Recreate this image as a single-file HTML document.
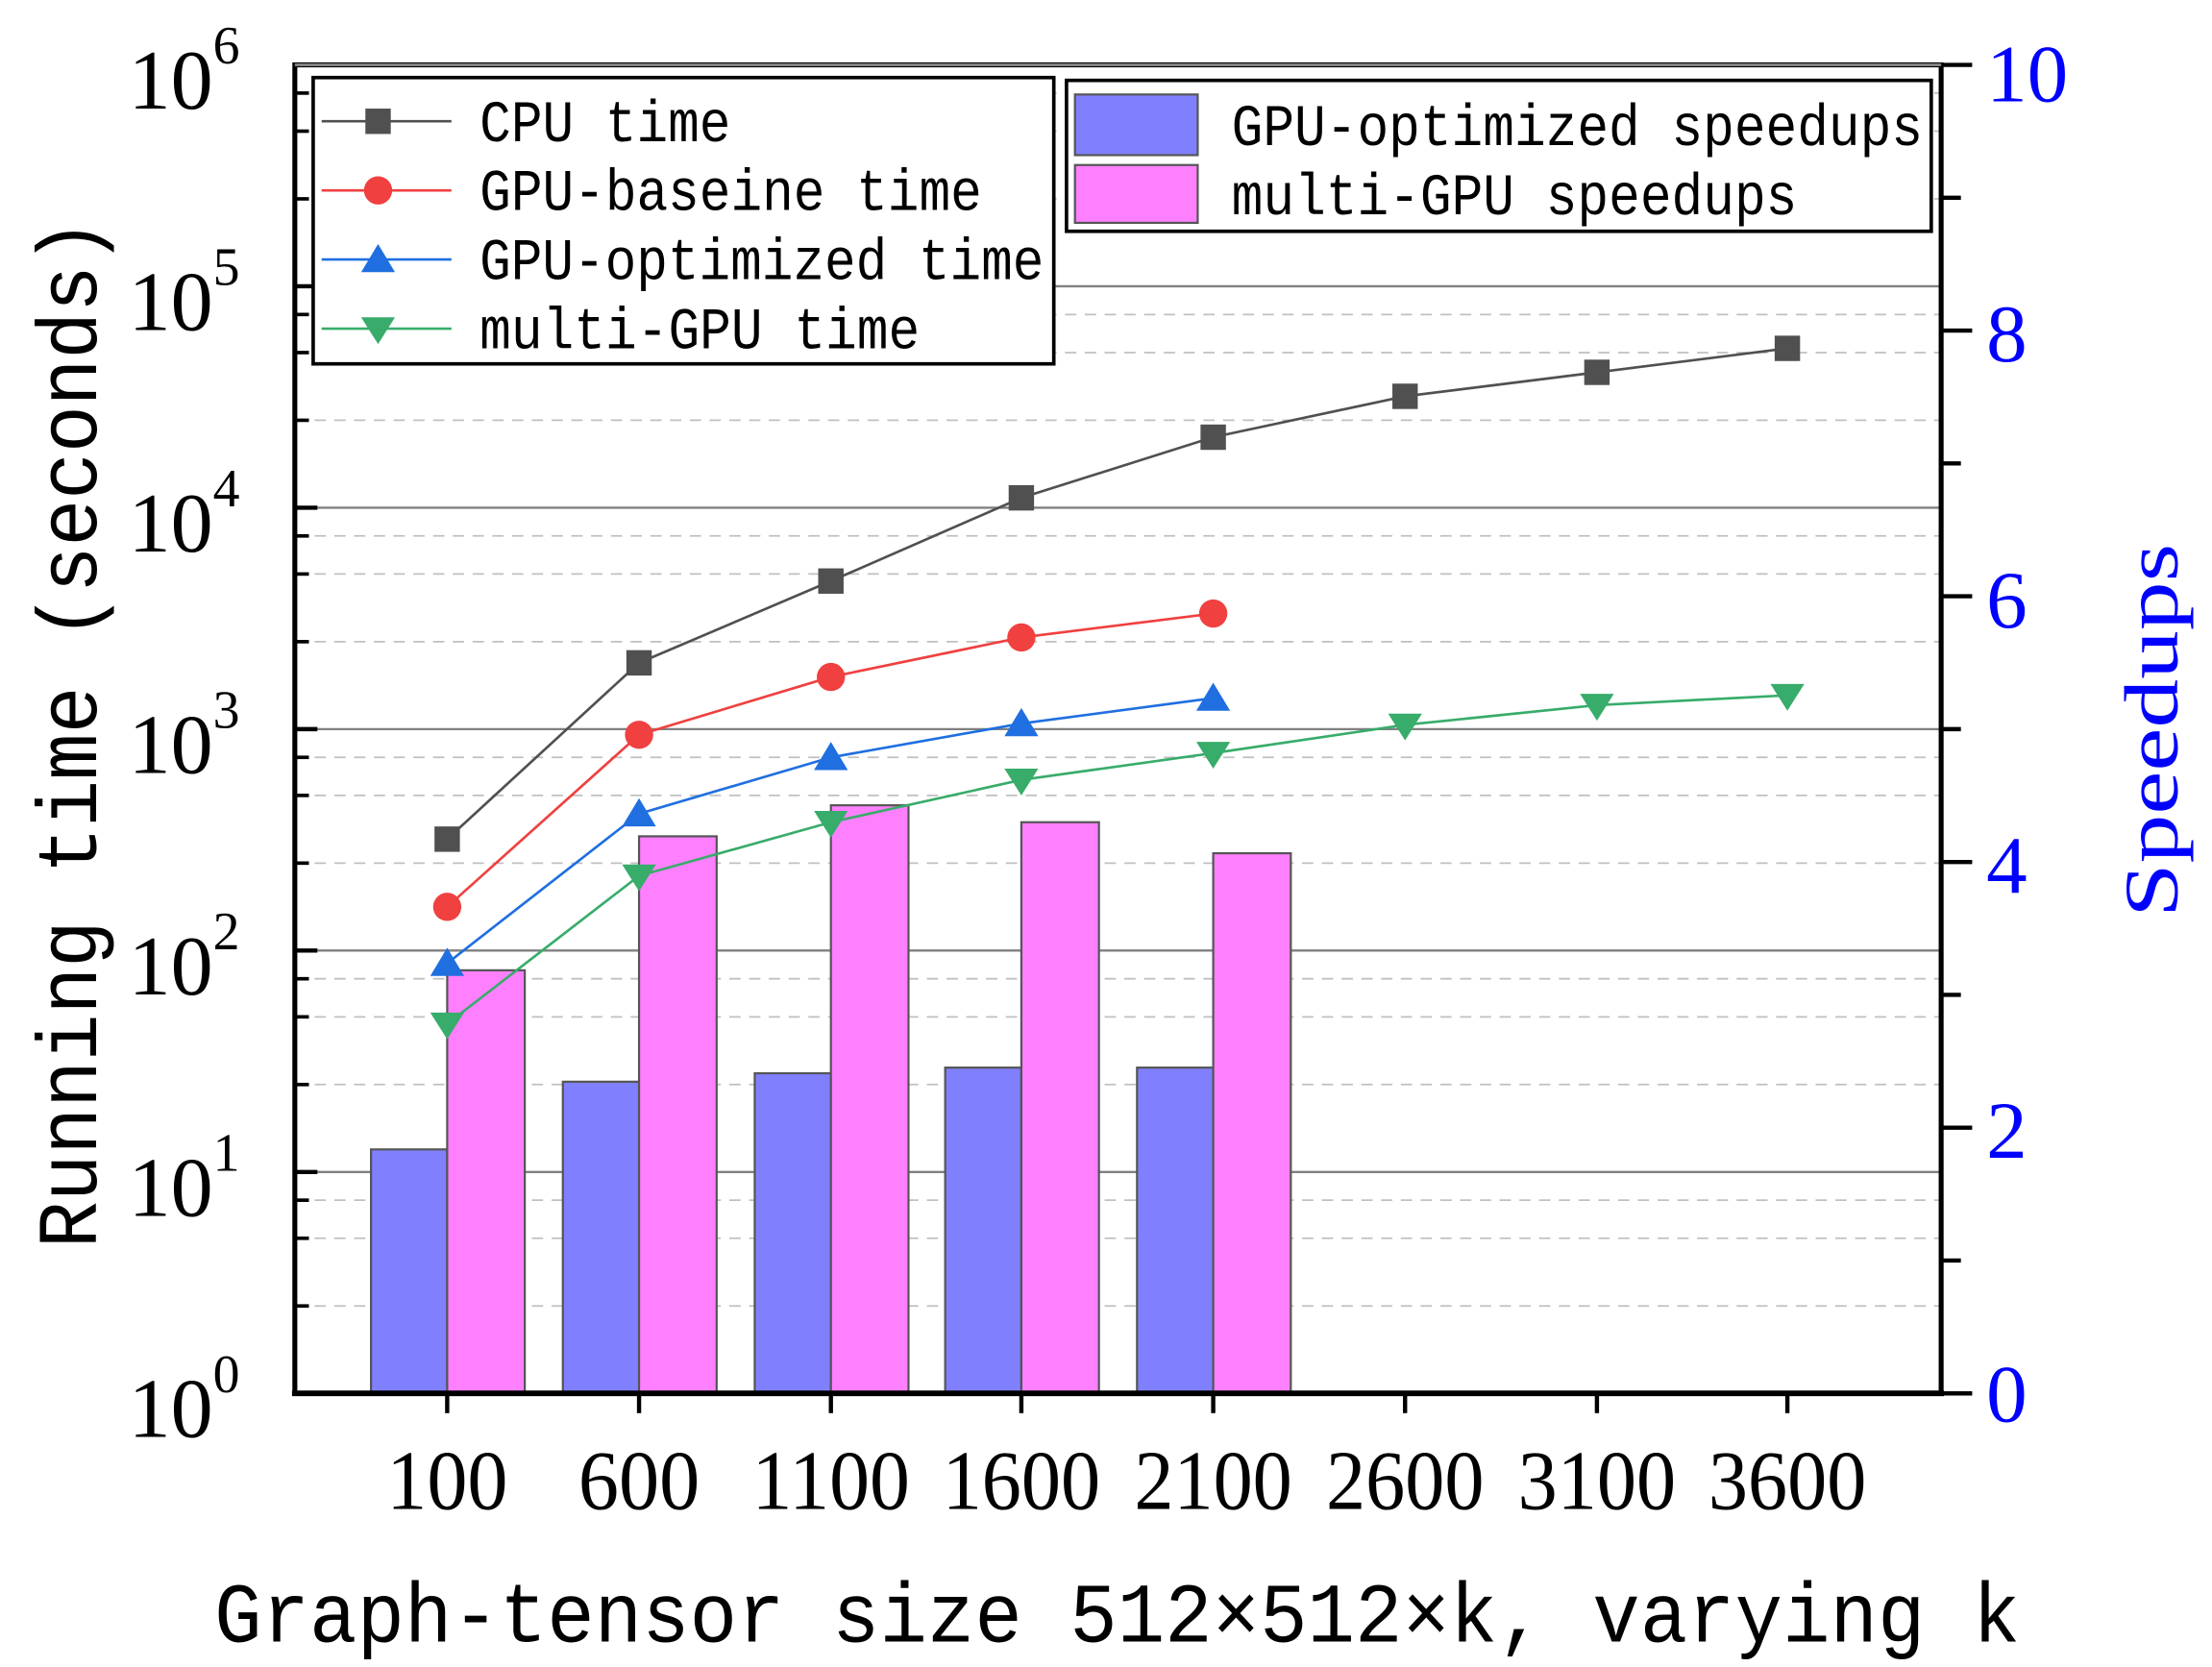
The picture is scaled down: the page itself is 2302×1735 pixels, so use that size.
<!DOCTYPE html>
<html><head><meta charset="utf-8"><style>
html,body{margin:0;padding:0;background:#fff;}
svg{display:block;}
.mono{font-family:"Liberation Mono","Noto Serif CJK SC",monospace;}
.ser{font-family:"Liberation Serif",serif;}
</style></head><body>
<svg width="2302" height="1735" viewBox="0 0 1568 1182" preserveAspectRatio="none" xmlns="http://www.w3.org/2000/svg">
<rect width="1568" height="1182" fill="#fff"/>
<g id="grid"></g>
<script>
(function(){
var ns="http://www.w3.org/2000/svg",g=document.getElementById('grid');
function el(t,a){var e=document.createElementNS(ns,t);for(var k in a)e.setAttribute(k,a[k]);g.appendChild(e);return e;}
for(var d=0;d<6;d++){var y0=46+157*d;
 if(d>0) el('line',{x1:209,x2:1376,y1:y0,y2:y0,stroke:'#808080','stroke-width':1.6});
 [20,47,95].forEach(function(o){var y=y0+o;el('line',{x1:209,x2:1376,y1:y,y2:y,stroke:'#c0c0c0','stroke-width':1.2,'stroke-dasharray':'8,6'});
  el('line',{x1:209,x2:219,y1:y,y2:y,stroke:'#000','stroke-width':2.5});});
 el('line',{x1:209,x2:225,y1:y0,y2:y0,stroke:'#000','stroke-width':3});
}
for(var i=0;i<=10;i++){var y=988-94.2*i;el('line',{x1:1376,x2:(i%2?1390:1398),y1:y,y2:y,stroke:'#000','stroke-width':3});}
})();
</script>
<!-- bars -->
<g stroke="#555" stroke-width="1.5">
<rect x="263" y="815" width="54" height="173" fill="#8080ff"/>
<rect x="317" y="688" width="55" height="300" fill="#ff80ff"/>
<rect x="399" y="767" width="54" height="221" fill="#8080ff"/>
<rect x="453" y="593" width="55" height="395" fill="#ff80ff"/>
<rect x="535" y="761" width="54" height="227" fill="#8080ff"/>
<rect x="589" y="571" width="55" height="417" fill="#ff80ff"/>
<rect x="670" y="757" width="54" height="231" fill="#8080ff"/>
<rect x="724" y="583" width="55" height="405" fill="#ff80ff"/>
<rect x="806" y="757" width="54" height="231" fill="#8080ff"/>
<rect x="860" y="605" width="55" height="383" fill="#ff80ff"/>
</g>
<!-- lines -->
<polyline fill="none" stroke="#505050" stroke-width="1.8" points="317,595 453,470 589,412 724,353 860,310 996,281 1132,264 1267,247"/>
<polyline fill="none" stroke="#f04040" stroke-width="1.8" points="317,643 453,521 589,480 724,452 860,435"/>
<polyline fill="none" stroke="#1f6fe0" stroke-width="1.8" points="317,683 453,577 589,537 724,513 860,495"/>
<polyline fill="none" stroke="#38ac6a" stroke-width="1.8" points="317,726 453,621 589,583 724,553 860,534 996,514 1132,500 1267,493"/>
<g fill="#505050">
<rect x="308" y="586" width="18" height="18"/><rect x="444" y="461" width="18" height="18"/><rect x="580" y="403" width="18" height="18"/><rect x="715" y="344" width="18" height="18"/><rect x="851" y="301" width="18" height="18"/><rect x="987" y="272" width="18" height="18"/><rect x="1123" y="255" width="18" height="18"/><rect x="1258" y="238" width="18" height="18"/>
</g>
<g fill="#f04040">
<circle cx="317" cy="643" r="10"/><circle cx="453" cy="521" r="10"/><circle cx="589" cy="480" r="10"/><circle cx="724" cy="452" r="10"/><circle cx="860" cy="435" r="10"/>
</g>
<g fill="#1f6fe0">
<polygon points="317,672 305,692 329,692"/><polygon points="453,566 441,586 465,586"/><polygon points="589,526 577,546 601,546"/><polygon points="724,502 712,522 736,522"/><polygon points="860,484 848,504 872,504"/>
</g>
<g fill="#38ac6a">
<polygon points="305,718 329,718 317,737"/><polygon points="441,613 465,613 453,632"/><polygon points="577,575 601,575 589,594"/><polygon points="712,545 736,545 724,564"/><polygon points="848,526 872,526 860,545"/><polygon points="984,506 1008,506 996,525"/><polygon points="1120,492 1144,492 1132,511"/><polygon points="1255,485 1279,485 1267,504"/>
</g>
<!-- axes -->
<rect x="209" y="46" width="1167" height="942" fill="none" stroke="#000" stroke-width="3.5"/>
<line x1="209" y1="46" x2="1376" y2="46" stroke="#808080" stroke-width="2"/>
<line x1="207" y1="988" x2="1378" y2="988" stroke="#000" stroke-width="4"/>
<g stroke="#000" stroke-width="3">
<line x1="317" x2="317" y1="988" y2="1002"/><line x1="453" x2="453" y1="988" y2="1002"/><line x1="589" x2="589" y1="988" y2="1002"/><line x1="724" x2="724" y1="988" y2="1002"/><line x1="860" x2="860" y1="988" y2="1002"/><line x1="996" x2="996" y1="988" y2="1002"/><line x1="1132" x2="1132" y1="988" y2="1002"/><line x1="1267" x2="1267" y1="988" y2="1002"/>
</g>
<!-- y left labels -->
<g class="ser" font-size="60" fill="#000">
<text x="91" y="77">10<tspan font-size="38" dy="-32">6</tspan></text>
<text x="91" y="234">10<tspan font-size="38" dy="-32">5</tspan></text>
<text x="91" y="391">10<tspan font-size="38" dy="-32">4</tspan></text>
<text x="91" y="548">10<tspan font-size="38" dy="-32">3</tspan></text>
<text x="91" y="705">10<tspan font-size="38" dy="-32">2</tspan></text>
<text x="91" y="862">10<tspan font-size="38" dy="-32">1</tspan></text>
<text x="91" y="1019">10<tspan font-size="38" dy="-32">0</tspan></text>
</g>
<g class="ser" font-size="58" fill="#0000ff">
<text x="1408" y="1008">0</text><text x="1408" y="821">2</text><text x="1408" y="633">4</text><text x="1408" y="445">6</text><text x="1408" y="256">8</text><text x="1408" y="72">10</text>
</g>
<g class="ser" font-size="60" fill="#000" text-anchor="middle">
<text x="317" y="1070" textLength="86" lengthAdjust="spacingAndGlyphs">100</text>
<text x="453" y="1070" textLength="86" lengthAdjust="spacingAndGlyphs">600</text>
<text x="589" y="1070" textLength="112" lengthAdjust="spacingAndGlyphs">1100</text>
<text x="724" y="1070" textLength="112" lengthAdjust="spacingAndGlyphs">1600</text>
<text x="860" y="1070" textLength="112" lengthAdjust="spacingAndGlyphs">2100</text>
<text x="996" y="1070" textLength="112" lengthAdjust="spacingAndGlyphs">2600</text>
<text x="1132" y="1070" textLength="112" lengthAdjust="spacingAndGlyphs">3100</text>
<text x="1267" y="1070" textLength="112" lengthAdjust="spacingAndGlyphs">3600</text>
</g>
<text class="mono" x="152" y="1164" font-size="60" textLength="1280" lengthAdjust="spacingAndGlyphs">Graph-tensor size 512×512×k, varying k</text>
<text class="mono" transform="translate(68,520) rotate(-90)" text-anchor="middle" font-size="60" textLength="730" lengthAdjust="spacingAndGlyphs">Running time (seconds)</text>
<text class="ser" transform="translate(1543,518) rotate(-90)" text-anchor="middle" font-size="54" fill="#0000ff" textLength="265" lengthAdjust="spacingAndGlyphs">Speedups</text>
<!-- legend 1 -->
<rect x="222" y="55" width="525" height="203" fill="#fff" stroke="#000" stroke-width="2.5"/>
<line x1="228" x2="320" y1="86" y2="86" stroke="#505050" stroke-width="1.8"/><rect x="259" y="77" width="18" height="18" fill="#505050"/>
<line x1="228" x2="320" y1="135" y2="135" stroke="#f04040" stroke-width="1.8"/><circle cx="268" cy="135" r="10" fill="#f04040"/>
<line x1="228" x2="320" y1="184" y2="184" stroke="#1f6fe0" stroke-width="1.8"/><polygon points="268,173 256,193 280,193" fill="#1f6fe0"/>
<line x1="228" x2="320" y1="233" y2="233" stroke="#38ac6a" stroke-width="1.8"/><polygon points="256,225 280,225 268,244" fill="#38ac6a"/>
<g class="mono" font-size="42" fill="#000">
<text x="340" y="100" textLength="178" lengthAdjust="spacingAndGlyphs">CPU time</text>
<text x="340" y="149" textLength="356" lengthAdjust="spacingAndGlyphs">GPU-baseine time</text>
<text x="340" y="198" textLength="400" lengthAdjust="spacingAndGlyphs">GPU-optimized time</text>
<text x="340" y="247" textLength="312" lengthAdjust="spacingAndGlyphs">multi-GPU time</text>
</g>
<!-- legend 2 -->
<rect x="756" y="57" width="613" height="107" fill="#fff" stroke="#000" stroke-width="2.5"/>
<rect x="762" y="67" width="87" height="43" fill="#8080ff" stroke="#555" stroke-width="1.5"/>
<rect x="762" y="117" width="87" height="41" fill="#ff80ff" stroke="#555" stroke-width="1.5"/>
<g class="mono" font-size="42" fill="#000">
<text x="873" y="103" textLength="490" lengthAdjust="spacingAndGlyphs">GPU-optimized speedups</text>
<text x="873" y="152" textLength="401" lengthAdjust="spacingAndGlyphs">multi-GPU speedups</text>
</g>
</svg>
</body></html>
